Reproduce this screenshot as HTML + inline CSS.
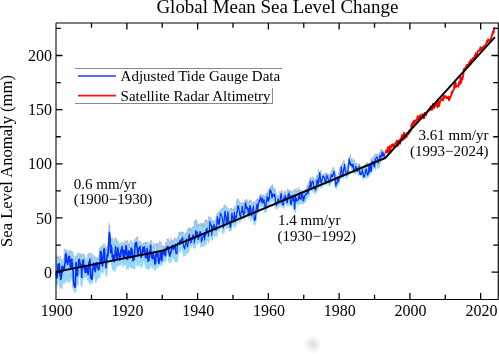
<!DOCTYPE html><html><head><meta charset="utf-8"><style>html,body{margin:0;padding:0;background:#fff;width:499px;height:354px;overflow:hidden}svg{display:block;will-change:transform}text{font-family:"Liberation Serif",serif;fill:#000}</style></head><body><svg width="499" height="354" viewBox="0 0 499 354"><rect width="499" height="354" fill="#fff"/><polygon fill="#96d6f8" points="56.0,263.4 56.3,264.1 56.6,259.4 56.9,255.1 57.2,258.6 57.5,256.8 57.8,257.2 58.1,256.3 58.4,257.5 58.7,257.9 58.9,257.5 59.2,259.3 59.5,258.4 59.8,257.4 60.1,255.8 60.4,256.1 60.7,260.1 61.0,259.7 61.3,259.5 61.6,260.4 61.9,261.5 62.2,262.9 62.5,262.4 62.8,259.8 63.1,260.2 63.4,258.2 63.7,258.0 64.0,257.9 64.3,248.9 64.6,248.8 64.8,248.9 65.1,249.2 65.4,249.7 65.7,252.9 66.0,251.1 66.3,250.9 66.6,249.8 66.9,249.3 67.2,252.2 67.5,251.4 67.8,252.9 68.1,252.4 68.4,252.9 68.7,252.0 69.0,252.4 69.3,250.3 69.6,250.4 69.9,252.3 70.2,250.3 70.4,250.5 70.7,251.7 71.0,253.2 71.3,253.3 71.6,251.3 71.9,250.7 72.2,251.6 72.5,252.4 72.8,252.1 73.1,253.3 73.4,253.9 73.7,254.6 74.0,260.3 74.3,261.1 74.6,260.4 74.9,257.2 75.2,256.9 75.5,255.9 75.8,255.7 76.0,257.0 76.3,258.1 76.6,255.1 76.9,255.4 77.2,256.8 77.5,253.5 77.8,253.1 78.1,253.4 78.4,252.8 78.7,252.9 79.0,253.5 79.3,253.4 79.6,253.1 79.9,253.3 80.2,253.8 80.5,253.7 80.8,256.5 81.1,255.4 81.4,256.6 81.7,253.6 81.9,253.7 82.2,253.7 82.5,254.5 82.8,253.8 83.1,253.9 83.4,254.3 83.7,254.5 84.0,254.4 84.3,254.2 84.6,255.1 84.9,258.4 85.2,257.0 85.5,259.9 85.8,259.3 86.1,260.7 86.4,261.2 86.7,261.3 87.0,260.9 87.3,257.7 87.5,256.1 87.8,254.0 88.1,254.0 88.4,254.7 88.7,253.2 89.0,253.7 89.3,253.6 89.6,253.5 89.9,253.3 90.2,252.9 90.5,252.9 90.8,253.6 91.1,253.1 91.4,255.2 91.7,263.6 92.0,263.3 92.3,257.4 92.6,254.4 92.9,254.2 93.1,255.2 93.4,254.7 93.7,258.7 94.0,258.2 94.3,258.2 94.6,256.6 94.9,255.9 95.2,256.5 95.5,256.9 95.8,257.7 96.1,258.7 96.4,258.7 96.7,259.6 97.0,256.8 97.3,257.9 97.6,258.2 97.9,260.0 98.2,258.1 98.5,258.2 98.8,257.2 99.0,253.5 99.3,248.3 99.6,248.0 99.9,247.8 100.2,247.3 100.5,247.1 100.8,247.1 101.1,246.6 101.4,246.1 101.7,248.2 102.0,248.4 102.3,246.9 102.6,245.1 102.9,245.7 103.2,244.9 103.5,244.4 103.8,243.7 104.1,243.6 104.4,244.3 104.6,244.7 104.9,245.0 105.2,245.6 105.5,246.3 105.8,246.2 106.1,250.6 106.4,249.1 106.7,250.2 107.0,247.5 107.3,246.9 107.6,246.7 107.9,244.3 108.2,241.5 108.5,234.0 108.8,225.6 109.1,223.1 109.4,224.5 109.7,224.9 110.0,226.7 110.2,233.7 110.5,238.1 110.8,239.8 111.1,239.0 111.4,238.8 111.7,238.1 112.0,237.6 112.3,237.6 112.6,238.8 112.9,239.1 113.2,243.0 113.5,245.1 113.8,245.9 114.1,241.2 114.4,238.8 114.7,238.4 115.0,237.5 115.3,238.6 115.6,238.5 115.9,237.8 116.1,239.0 116.4,239.1 116.7,239.2 117.0,239.5 117.3,242.2 117.6,241.2 117.9,241.0 118.2,241.5 118.5,242.0 118.8,242.3 119.1,242.9 119.4,244.3 119.7,244.7 120.0,243.7 120.3,243.4 120.6,243.7 120.9,243.7 121.2,243.2 121.5,242.8 121.7,242.5 122.0,242.5 122.3,243.6 122.6,242.3 122.9,242.0 123.2,243.4 123.5,243.8 123.8,245.8 124.1,244.2 124.4,244.1 124.7,241.2 125.0,240.6 125.3,240.7 125.6,240.9 125.9,240.7 126.2,242.1 126.5,242.8 126.8,241.6 127.1,241.2 127.3,240.0 127.6,240.4 127.9,244.8 128.2,244.6 128.5,245.7 128.8,242.6 129.1,247.6 129.4,243.9 129.7,243.7 130.0,243.4 130.3,240.8 130.6,241.1 130.9,240.5 131.2,240.5 131.5,240.8 131.8,241.8 132.1,243.1 132.4,242.8 132.7,245.6 133.0,246.6 133.2,246.7 133.5,247.3 133.8,242.6 134.1,240.5 134.4,240.7 134.7,239.8 135.0,239.2 135.3,238.9 135.6,238.6 135.9,238.2 136.2,237.8 136.5,237.3 136.8,238.4 137.1,238.5 137.4,236.7 137.7,236.0 138.0,240.5 138.3,241.2 138.6,242.0 138.8,241.6 139.1,242.3 139.4,241.8 139.7,242.4 140.0,243.0 140.3,240.7 140.6,241.2 140.9,241.9 141.2,244.4 141.5,246.2 141.8,244.5 142.1,244.3 142.4,243.3 142.7,243.4 143.0,243.8 143.3,242.8 143.6,244.8 143.9,243.5 144.2,243.0 144.5,242.3 144.7,242.1 145.0,241.9 145.3,243.6 145.6,246.5 145.9,242.1 146.2,242.8 146.5,243.7 146.8,242.0 147.1,241.9 147.4,242.2 147.7,241.9 148.0,243.3 148.3,243.5 148.6,246.1 148.9,246.5 149.2,246.8 149.5,244.2 149.8,242.3 150.1,242.6 150.3,240.8 150.6,241.3 150.9,240.3 151.2,240.0 151.5,240.3 151.8,240.4 152.1,246.2 152.4,248.0 152.7,247.6 153.0,245.8 153.3,246.3 153.6,242.5 153.9,245.7 154.2,245.4 154.5,247.3 154.8,249.0 155.1,243.8 155.4,245.1 155.7,243.7 155.9,244.6 156.2,243.6 156.5,244.3 156.8,246.0 157.1,243.8 157.4,243.2 157.7,243.8 158.0,245.2 158.3,248.6 158.6,245.2 158.9,242.3 159.2,242.1 159.5,241.5 159.8,241.2 160.1,242.2 160.4,241.8 160.7,242.3 161.0,241.6 161.3,243.8 161.6,243.7 161.8,246.3 162.1,247.3 162.4,247.1 162.7,245.8 163.0,246.5 163.3,247.8 163.6,245.1 163.9,246.5 164.2,249.3 164.5,247.5 164.8,246.9 165.1,245.8 165.4,241.9 165.7,243.9 166.0,243.4 166.3,242.8 166.6,242.2 166.9,242.1 167.2,238.6 167.4,240.1 167.7,239.0 168.0,239.5 168.3,238.7 168.6,238.4 168.9,240.9 169.2,240.7 169.5,241.8 169.8,241.8 170.1,244.8 170.4,242.9 170.7,238.0 171.0,238.3 171.3,239.5 171.6,241.4 171.9,242.8 172.2,240.2 172.5,243.1 172.8,241.5 173.0,241.5 173.3,240.0 173.6,239.5 173.9,240.5 174.2,239.0 174.5,238.6 174.8,240.1 175.1,241.2 175.4,237.3 175.7,237.8 176.0,238.1 176.3,239.5 176.6,241.1 176.9,238.2 177.2,237.4 177.5,237.9 177.8,238.4 178.1,236.6 178.4,237.3 178.7,233.6 178.9,232.6 179.2,232.2 179.5,233.4 179.8,234.8 180.1,231.8 180.4,232.1 180.7,231.9 181.0,233.0 181.3,231.5 181.6,232.4 181.9,232.8 182.2,231.7 182.5,231.8 182.8,233.5 183.1,232.7 183.4,232.1 183.7,232.3 184.0,235.1 184.3,238.2 184.5,238.8 184.8,234.8 185.1,233.3 185.4,233.2 185.7,235.4 186.0,233.5 186.3,232.8 186.6,231.7 186.9,233.1 187.2,232.2 187.5,229.1 187.8,231.0 188.1,230.1 188.4,228.3 188.7,228.3 189.0,228.6 189.3,227.8 189.6,231.1 189.9,228.6 190.1,229.3 190.4,227.4 190.7,228.4 191.0,233.1 191.3,232.9 191.6,228.4 191.9,231.6 192.2,230.1 192.5,228.1 192.8,226.8 193.1,226.6 193.4,228.4 193.7,226.0 194.0,226.0 194.3,221.5 194.6,222.4 194.9,220.9 195.2,221.6 195.5,221.2 195.8,219.4 196.0,221.0 196.3,222.1 196.6,219.9 196.9,222.0 197.2,228.1 197.5,224.7 197.8,225.1 198.1,223.0 198.4,224.9 198.7,224.1 199.0,226.0 199.3,225.8 199.6,224.5 199.9,226.6 200.2,225.3 200.5,223.6 200.8,224.2 201.1,222.8 201.4,224.1 201.6,223.6 201.9,223.4 202.2,226.7 202.5,223.9 202.8,226.2 203.1,223.0 203.4,226.9 203.7,225.3 204.0,223.4 204.3,222.6 204.6,224.1 204.9,220.8 205.2,220.1 205.5,221.8 205.8,219.3 206.1,219.2 206.4,220.1 206.7,221.4 207.0,220.4 207.2,220.8 207.5,220.9 207.8,222.1 208.1,223.7 208.4,218.7 208.7,216.0 209.0,216.2 209.3,216.8 209.6,218.5 209.9,217.3 210.2,217.4 210.5,218.9 210.8,217.7 211.1,218.0 211.4,218.5 211.7,220.0 212.0,221.2 212.3,221.1 212.6,223.8 212.9,220.3 213.1,220.2 213.4,221.9 213.7,222.0 214.0,220.9 214.3,221.1 214.6,221.7 214.9,220.8 215.2,221.4 215.5,221.2 215.8,216.9 216.1,215.0 216.4,214.5 216.7,214.3 217.0,213.9 217.3,213.0 217.6,213.1 217.9,212.8 218.2,212.3 218.5,212.2 218.7,214.0 219.0,211.7 219.3,211.6 219.6,210.9 219.9,213.1 220.2,210.1 220.5,209.8 220.8,210.1 221.1,209.2 221.4,209.5 221.7,208.7 222.0,208.1 222.3,208.6 222.6,208.2 222.9,208.0 223.2,209.1 223.5,209.7 223.8,205.9 224.1,206.1 224.3,205.7 224.6,204.9 224.9,205.7 225.2,204.7 225.5,205.2 225.8,206.5 226.1,205.9 226.4,206.6 226.7,206.5 227.0,208.1 227.3,207.5 227.6,208.3 227.9,208.4 228.2,208.6 228.5,208.4 228.8,208.6 229.1,208.5 229.4,209.7 229.7,215.1 230.0,216.0 230.2,216.1 230.5,211.4 230.8,207.9 231.1,211.3 231.4,208.2 231.7,209.9 232.0,208.5 232.3,209.5 232.6,210.1 232.9,210.6 233.2,210.7 233.5,207.9 233.8,211.9 234.1,209.8 234.4,207.4 234.7,205.8 235.0,210.0 235.3,210.2 235.6,207.9 235.8,207.2 236.1,207.8 236.4,201.1 236.7,199.7 237.0,199.7 237.3,200.3 237.6,199.4 237.9,198.4 238.2,200.2 238.5,199.4 238.8,199.6 239.1,201.7 239.4,201.5 239.7,201.6 240.0,204.5 240.3,207.7 240.6,207.1 240.9,202.4 241.2,202.3 241.5,203.8 241.7,203.8 242.0,203.8 242.3,204.5 242.6,202.7 242.9,202.7 243.2,202.9 243.5,204.2 243.8,202.5 244.1,201.2 244.4,200.9 244.7,200.3 245.0,200.2 245.3,199.9 245.6,200.1 245.9,199.6 246.2,199.1 246.5,199.1 246.8,199.1 247.1,202.2 247.3,201.9 247.6,200.6 247.9,203.3 248.2,202.1 248.5,201.6 248.8,202.3 249.1,202.6 249.4,199.7 249.7,200.0 250.0,202.5 250.3,200.4 250.6,201.6 250.9,202.1 251.2,199.6 251.5,202.7 251.8,203.0 252.1,204.6 252.4,203.8 252.7,202.7 252.9,202.0 253.2,202.6 253.5,201.7 253.8,202.5 254.1,202.0 254.4,203.6 254.7,201.9 255.0,205.4 255.3,204.0 255.6,202.2 255.9,200.6 256.2,200.6 256.5,199.8 256.8,199.1 257.1,201.7 257.4,199.1 257.7,197.7 258.0,201.2 258.3,199.1 258.6,199.6 258.8,197.7 259.1,197.5 259.4,195.2 259.7,195.2 260.0,194.3 260.3,194.4 260.6,194.4 260.9,194.8 261.2,195.5 261.5,194.1 261.8,194.2 262.1,195.4 262.4,195.2 262.7,196.3 263.0,195.0 263.3,195.1 263.6,197.3 263.9,195.2 264.2,196.4 264.4,195.9 264.7,196.0 265.0,196.8 265.3,198.0 265.6,195.2 265.9,193.5 266.2,193.0 266.5,194.8 266.8,192.7 267.1,193.2 267.4,194.2 267.7,191.7 268.0,192.9 268.3,191.0 268.6,189.6 268.9,189.0 269.2,188.7 269.5,188.1 269.8,187.4 270.0,186.9 270.3,186.5 270.6,187.8 270.9,187.5 271.2,187.3 271.5,188.3 271.8,185.0 272.1,185.1 272.4,184.3 272.7,189.5 273.0,186.5 273.3,188.6 273.6,190.9 273.9,188.6 274.2,188.9 274.5,189.6 274.8,191.1 275.1,188.6 275.4,190.7 275.7,191.7 275.9,191.4 276.2,194.2 276.5,198.1 276.8,197.2 277.1,195.7 277.4,195.2 277.7,196.3 278.0,195.5 278.3,196.4 278.6,196.0 278.9,197.3 279.2,195.2 279.5,191.9 279.8,190.9 280.1,191.2 280.4,192.2 280.7,191.6 281.0,192.1 281.3,193.6 281.5,192.6 281.8,189.9 282.1,190.2 282.4,192.2 282.7,192.7 283.0,194.9 283.3,194.1 283.6,195.9 283.9,194.5 284.2,191.6 284.5,192.5 284.8,192.1 285.1,190.6 285.4,192.7 285.7,192.2 286.0,192.9 286.3,195.7 286.6,196.4 286.9,194.4 287.1,191.3 287.4,188.6 287.7,191.3 288.0,190.1 288.3,190.2 288.6,189.7 288.9,190.2 289.2,193.3 289.5,190.8 289.8,190.0 290.1,190.7 290.4,192.5 290.7,190.6 291.0,191.1 291.3,191.0 291.6,191.8 291.9,191.6 292.2,191.9 292.5,191.7 292.8,191.2 293.0,191.0 293.3,191.2 293.6,190.6 293.9,191.6 294.2,189.7 294.5,190.2 294.8,189.6 295.1,189.1 295.4,189.5 295.7,189.3 296.0,188.4 296.3,188.2 296.6,189.1 296.9,192.2 297.2,191.5 297.5,190.4 297.8,191.6 298.1,192.2 298.4,188.7 298.6,187.3 298.9,188.0 299.2,189.7 299.5,191.3 299.8,189.8 300.1,189.5 300.4,189.6 300.7,189.7 301.0,190.2 301.3,190.5 301.6,191.5 301.9,191.6 302.2,191.6 302.5,190.2 302.8,190.4 303.1,190.2 303.4,192.5 303.7,195.3 304.0,193.9 304.2,194.0 304.5,191.9 304.8,190.7 305.1,189.2 305.4,190.3 305.7,189.5 306.0,190.0 306.3,190.6 306.6,187.3 306.9,186.0 307.2,187.0 307.5,185.3 307.8,185.5 308.1,184.6 308.4,182.9 308.7,182.5 309.0,184.9 309.3,180.2 309.6,178.6 309.9,177.4 310.1,177.0 310.4,178.1 310.7,178.9 311.0,181.1 311.3,178.3 311.6,178.0 311.9,177.6 312.2,178.0 312.5,177.5 312.8,176.6 313.1,179.0 313.4,178.6 313.7,180.0 314.0,178.2 314.3,179.9 314.6,180.5 314.9,181.5 315.2,179.9 315.5,182.3 315.7,177.9 316.0,177.5 316.3,176.1 316.6,175.2 316.9,175.8 317.2,177.1 317.5,175.1 317.8,177.8 318.1,173.8 318.4,169.3 318.7,171.7 319.0,171.7 319.3,172.3 319.6,171.9 319.9,172.3 320.2,172.5 320.5,170.3 320.8,170.4 321.1,170.9 321.4,174.4 321.6,175.1 321.9,173.9 322.2,175.0 322.5,176.6 322.8,175.4 323.1,175.4 323.4,174.9 323.7,175.4 324.0,174.6 324.3,173.5 324.6,174.1 324.9,175.1 325.2,172.6 325.5,173.1 325.8,173.4 326.1,173.7 326.4,172.8 326.7,173.9 327.0,174.4 327.2,173.1 327.5,173.7 327.8,174.5 328.1,174.9 328.4,173.8 328.7,174.3 329.0,175.5 329.3,174.5 329.6,178.4 329.9,174.3 330.2,174.1 330.5,173.5 330.8,172.1 331.1,172.3 331.4,171.0 331.7,170.5 332.0,170.8 332.3,168.8 332.6,168.0 332.8,167.6 333.1,168.0 333.4,167.3 333.7,168.1 334.0,168.9 334.3,169.3 334.6,170.1 334.9,171.5 335.2,171.8 335.5,172.9 335.8,173.4 336.1,174.7 336.4,176.0 336.7,176.0 337.0,176.0 337.3,176.6 337.6,176.7 337.9,176.3 338.2,175.8 338.5,173.2 338.7,173.2 339.0,170.6 339.3,170.0 339.6,168.2 339.9,167.1 340.2,166.8 340.5,166.0 340.8,165.5 341.1,164.2 341.4,164.0 341.7,164.9 342.0,164.3 342.3,163.8 342.6,163.3 342.9,162.3 343.2,161.0 343.5,159.9 343.8,159.9 344.1,160.1 344.3,161.0 344.6,161.5 344.9,162.8 345.2,163.9 345.5,165.5 345.8,165.9 346.1,166.6 346.4,168.2 346.7,171.8 347.0,167.2 347.3,165.8 347.6,164.2 347.9,163.1 348.2,161.3 348.5,159.6 348.8,158.1 349.1,157.0 349.4,158.7 349.7,156.3 349.9,156.3 350.2,155.6 350.5,154.0 350.8,156.8 351.1,158.5 351.4,160.0 351.7,159.4 352.0,161.4 352.3,160.8 352.6,161.9 352.9,158.4 353.2,161.4 353.5,160.8 353.8,160.7 354.1,160.0 354.4,159.8 354.7,164.0 355.0,166.9 355.3,163.9 355.6,163.0 355.8,164.2 356.1,164.2 356.4,162.9 356.7,163.0 357.0,163.1 357.3,164.2 357.6,165.8 357.9,165.4 358.2,164.8 358.5,164.4 358.8,163.7 359.1,164.5 359.4,163.3 359.7,165.9 360.0,164.6 360.3,165.8 360.6,168.4 360.9,170.6 361.2,168.3 361.4,167.5 361.7,166.6 362.0,166.1 362.3,168.8 362.6,169.5 362.9,168.0 363.2,167.7 363.5,166.3 363.8,166.4 364.1,166.0 364.4,164.9 364.7,165.3 365.0,163.7 365.3,165.8 365.6,166.0 365.9,165.4 366.2,162.8 366.5,164.2 366.8,165.0 367.0,163.7 367.3,162.2 367.6,164.8 367.9,164.7 368.2,163.5 368.5,164.8 368.8,164.8 369.1,163.5 369.4,163.0 369.7,163.6 370.0,164.7 370.3,163.2 370.6,162.3 370.9,159.3 371.2,158.3 371.5,157.6 371.8,157.6 372.1,158.0 372.4,157.8 372.7,158.4 372.9,158.2 373.2,158.0 373.5,157.8 373.8,156.6 374.1,155.8 374.4,157.7 374.7,154.6 375.0,154.5 375.3,155.0 375.6,154.1 375.9,153.7 376.2,156.1 376.5,155.0 376.8,153.7 377.1,154.4 377.4,154.1 377.7,154.8 378.0,155.7 378.3,157.8 378.5,155.1 378.8,153.5 379.1,152.3 379.4,152.7 379.7,152.9 380.0,153.9 380.3,154.0 380.6,149.7 380.9,149.4 381.2,151.1 381.5,148.8 381.8,150.3 382.1,151.1 382.4,151.2 382.7,150.5 383.0,151.8 383.3,151.0 383.6,151.1 383.9,150.7 384.1,152.3 384.4,152.3 384.7,153.4 384.7,160.9 384.4,158.7 384.1,160.1 383.9,157.9 383.6,158.9 383.3,159.1 383.0,157.5 382.7,160.7 382.4,158.3 382.1,158.9 381.8,158.8 381.5,160.8 381.2,161.4 380.9,161.8 380.6,163.4 380.3,165.6 380.0,166.2 379.7,167.2 379.4,167.8 379.1,168.7 378.8,168.3 378.5,168.9 378.3,167.5 378.0,169.4 377.7,169.9 377.4,168.3 377.1,170.0 376.8,165.6 376.5,165.0 376.2,165.4 375.9,170.3 375.6,169.1 375.3,171.0 375.0,171.0 374.7,170.2 374.4,168.9 374.1,168.2 373.8,167.7 373.5,169.8 373.2,168.6 372.9,170.5 372.7,170.2 372.4,173.9 372.1,170.7 371.8,171.3 371.5,173.7 371.2,174.2 370.9,174.0 370.6,172.8 370.3,174.7 370.0,174.3 369.7,176.5 369.4,176.6 369.1,176.3 368.8,177.0 368.5,176.9 368.2,177.9 367.9,178.3 367.6,178.3 367.3,177.0 367.0,178.7 366.8,178.9 366.5,179.2 366.2,178.6 365.9,178.4 365.6,177.5 365.3,178.1 365.0,179.0 364.7,177.3 364.4,178.2 364.1,180.2 363.8,180.0 363.5,180.2 363.2,178.2 362.9,180.3 362.6,180.3 362.3,179.1 362.0,175.6 361.7,177.1 361.4,176.4 361.2,175.9 360.9,175.5 360.6,176.2 360.3,176.8 360.0,177.8 359.7,175.7 359.4,175.1 359.1,175.1 358.8,175.8 358.5,177.4 358.2,175.2 357.9,174.4 357.6,173.8 357.3,172.4 357.0,173.6 356.7,171.9 356.4,173.6 356.1,173.3 355.8,174.0 355.6,173.4 355.3,175.0 355.0,174.3 354.7,174.3 354.4,174.1 354.1,173.9 353.8,174.1 353.5,173.6 353.2,173.0 352.9,173.1 352.6,172.2 352.3,172.3 352.0,170.3 351.7,169.0 351.4,170.0 351.1,169.1 350.8,169.5 350.5,167.2 350.2,165.2 349.9,166.8 349.7,165.9 349.4,167.2 349.1,174.9 348.8,175.3 348.5,176.1 348.2,177.6 347.9,178.5 347.6,178.6 347.3,177.5 347.0,175.6 346.7,180.0 346.4,179.6 346.1,178.3 345.8,178.7 345.5,178.7 345.2,177.2 344.9,175.8 344.6,173.2 344.3,176.1 344.1,178.7 343.8,177.5 343.5,180.1 343.2,179.5 342.9,178.6 342.6,179.3 342.3,178.6 342.0,178.0 341.7,179.9 341.4,176.8 341.1,178.3 340.8,179.8 340.5,178.7 340.2,180.0 339.9,182.7 339.6,184.5 339.3,183.1 339.0,185.7 338.7,184.4 338.5,185.2 338.2,186.0 337.9,185.9 337.6,187.5 337.3,186.0 337.0,188.8 336.7,189.9 336.4,190.0 336.1,189.3 335.8,189.6 335.5,188.4 335.2,187.3 334.9,187.2 334.6,186.8 334.3,184.0 334.0,184.2 333.7,180.4 333.4,176.9 333.1,178.0 332.8,177.3 332.6,179.7 332.3,179.6 332.0,183.2 331.7,183.1 331.4,184.1 331.1,185.0 330.8,185.3 330.5,185.3 330.2,186.8 329.9,186.8 329.6,187.0 329.3,187.2 329.0,186.4 328.7,185.8 328.4,185.8 328.1,184.5 327.8,186.1 327.5,184.5 327.2,182.3 327.0,184.9 326.7,183.4 326.4,184.9 326.1,185.4 325.8,186.1 325.5,185.5 325.2,183.4 324.9,184.7 324.6,186.8 324.3,184.9 324.0,184.3 323.7,184.5 323.4,180.2 323.1,182.6 322.8,187.1 322.5,187.7 322.2,188.0 321.9,187.6 321.6,188.4 321.4,187.8 321.1,187.9 320.8,188.3 320.5,188.6 320.2,187.5 319.9,187.6 319.6,186.6 319.3,185.6 319.0,189.5 318.7,189.5 318.4,189.5 318.1,186.8 317.8,190.0 317.5,190.5 317.2,192.0 316.9,192.5 316.6,193.6 316.3,194.1 316.0,193.2 315.7,191.5 315.5,193.2 315.2,195.7 314.9,195.5 314.6,194.4 314.3,192.7 314.0,192.1 313.7,192.8 313.4,193.5 313.1,192.5 312.8,191.1 312.5,193.7 312.2,191.9 311.9,193.8 311.6,189.9 311.3,189.7 311.0,191.0 310.7,190.9 310.4,190.7 310.1,192.6 309.9,192.9 309.6,196.6 309.3,198.2 309.0,198.4 308.7,197.3 308.4,194.8 308.1,198.0 307.8,197.5 307.5,200.4 307.2,200.0 306.9,200.7 306.6,199.5 306.3,200.8 306.0,201.4 305.7,202.0 305.4,202.3 305.1,202.9 304.8,202.8 304.5,203.5 304.2,203.7 304.0,203.3 303.7,204.5 303.4,204.6 303.1,203.2 302.8,204.4 302.5,204.5 302.2,204.5 301.9,204.5 301.6,204.1 301.3,203.8 301.0,203.6 300.7,204.3 300.4,204.3 300.1,204.3 299.8,204.1 299.5,204.2 299.2,205.4 298.9,206.1 298.6,205.5 298.4,204.4 298.1,204.2 297.8,205.6 297.5,206.1 297.2,205.6 296.9,204.0 296.6,205.3 296.3,204.6 296.0,213.3 295.7,212.7 295.4,213.1 295.1,212.5 294.8,211.6 294.5,212.1 294.2,211.5 293.9,211.0 293.6,210.5 293.3,210.1 293.0,205.6 292.8,203.7 292.5,207.2 292.2,208.1 291.9,206.4 291.6,205.5 291.3,207.9 291.0,206.1 290.7,206.0 290.4,207.3 290.1,207.1 289.8,207.4 289.5,205.8 289.2,206.5 288.9,203.5 288.6,205.7 288.3,206.5 288.0,206.2 287.7,206.2 287.4,206.3 287.1,205.7 286.9,205.6 286.6,206.7 286.3,204.9 286.0,205.4 285.7,204.2 285.4,203.5 285.1,203.3 284.8,207.9 284.5,208.2 284.2,208.3 283.9,206.8 283.6,208.0 283.3,208.3 283.0,208.4 282.7,208.5 282.4,208.2 282.1,208.4 281.8,205.8 281.5,207.2 281.3,208.3 281.0,205.7 280.7,206.9 280.4,203.7 280.1,207.2 279.8,207.6 279.5,205.4 279.2,208.0 278.9,207.5 278.6,205.8 278.3,206.1 278.0,209.0 277.7,208.9 277.4,208.9 277.1,208.9 276.8,209.6 276.5,210.4 276.2,208.5 275.9,210.0 275.7,209.9 275.4,207.2 275.1,205.7 274.8,207.9 274.5,209.1 274.2,207.5 273.9,201.8 273.6,201.0 273.3,203.5 273.0,203.7 272.7,200.2 272.4,201.9 272.1,201.1 271.8,201.5 271.5,203.2 271.2,203.6 270.9,201.6 270.6,203.5 270.3,204.8 270.0,205.7 269.8,206.4 269.5,207.0 269.2,207.1 268.9,205.8 268.6,206.3 268.3,207.5 268.0,207.5 267.7,205.2 267.4,210.0 267.1,210.5 266.8,212.1 266.5,212.6 266.2,212.0 265.9,212.9 265.6,212.2 265.3,213.2 265.0,213.0 264.7,212.5 264.4,212.8 264.2,212.0 263.9,211.2 263.6,206.0 263.3,208.1 263.0,208.0 262.7,207.8 262.4,207.6 262.1,206.7 261.8,205.2 261.5,208.4 261.2,208.2 260.9,208.4 260.6,204.9 260.3,207.9 260.0,207.0 259.7,203.5 259.4,209.2 259.1,211.3 258.8,213.0 258.6,213.5 258.3,214.6 258.0,213.3 257.7,213.3 257.4,214.7 257.1,215.2 256.8,220.1 256.5,221.0 256.2,222.1 255.9,223.2 255.6,223.6 255.3,224.9 255.0,225.6 254.7,225.5 254.4,225.3 254.1,225.5 253.8,224.4 253.5,225.1 253.2,223.6 252.9,220.0 252.7,219.0 252.4,220.3 252.1,219.2 251.8,221.1 251.5,219.2 251.2,221.9 250.9,220.4 250.6,222.0 250.3,220.9 250.0,218.1 249.7,217.1 249.4,218.1 249.1,218.7 248.8,219.0 248.5,219.0 248.2,218.6 247.9,216.9 247.6,216.7 247.3,217.1 247.1,219.9 246.8,216.2 246.5,214.0 246.2,212.6 245.9,219.6 245.6,217.6 245.3,219.7 245.0,219.5 244.7,219.6 244.4,221.1 244.1,219.3 243.8,219.9 243.5,219.1 243.2,218.2 242.9,219.2 242.6,219.5 242.3,218.1 242.0,218.4 241.7,220.7 241.5,222.4 241.2,221.7 240.9,222.1 240.6,221.4 240.3,220.3 240.0,222.6 239.7,222.8 239.4,224.0 239.1,225.1 238.8,223.1 238.5,219.9 238.2,219.0 237.9,221.3 237.6,223.4 237.3,223.8 237.0,224.8 236.7,224.8 236.4,224.2 236.1,228.7 235.8,228.8 235.6,227.1 235.3,227.3 235.0,228.4 234.7,228.0 234.4,224.8 234.1,225.8 233.8,227.4 233.5,224.9 233.2,227.1 232.9,226.3 232.6,223.9 232.3,223.9 232.0,229.4 231.7,230.9 231.4,231.1 231.1,230.8 230.8,230.9 230.5,230.6 230.2,230.9 230.0,231.9 229.7,231.7 229.4,231.8 229.1,231.7 228.8,231.4 228.5,228.7 228.2,228.1 227.9,227.0 227.6,227.9 227.3,228.6 227.0,228.5 226.7,229.8 226.4,229.2 226.1,228.9 225.8,228.0 225.5,227.3 225.2,226.7 224.9,230.7 224.6,234.1 224.3,232.8 224.1,233.6 223.8,234.3 223.5,231.6 223.2,233.2 222.9,234.4 222.6,234.8 222.3,234.6 222.0,234.4 221.7,228.6 221.4,228.9 221.1,226.4 220.8,229.1 220.5,229.8 220.2,229.1 219.9,231.5 219.6,229.7 219.3,229.6 219.0,230.4 218.7,232.0 218.5,232.6 218.2,232.4 217.9,231.5 217.6,236.2 217.3,238.1 217.0,238.2 216.7,238.3 216.4,235.2 216.1,235.7 215.8,235.3 215.5,237.6 215.2,235.9 214.9,238.1 214.6,237.2 214.3,236.2 214.0,236.9 213.7,234.7 213.4,239.5 213.1,239.4 212.9,240.6 212.6,240.0 212.3,240.1 212.0,241.2 211.7,241.4 211.4,239.1 211.1,240.0 210.8,240.9 210.5,239.6 210.2,235.7 209.9,234.7 209.6,242.0 209.3,242.6 209.0,242.8 208.7,243.6 208.4,243.3 208.1,242.2 207.8,242.0 207.5,240.1 207.2,241.5 207.0,239.9 206.7,244.1 206.4,244.7 206.1,243.4 205.8,246.3 205.5,246.1 205.2,246.3 204.9,245.0 204.6,245.9 204.3,246.2 204.0,246.6 203.7,246.4 203.4,246.7 203.1,246.6 202.8,246.7 202.5,246.7 202.2,246.9 201.9,245.6 201.6,247.0 201.4,247.1 201.1,246.9 200.8,247.0 200.5,247.6 200.2,247.6 199.9,242.0 199.6,242.1 199.3,242.1 199.0,244.6 198.7,243.6 198.4,243.3 198.1,244.6 197.8,244.8 197.5,245.1 197.2,244.5 196.9,243.7 196.6,240.5 196.3,245.1 196.0,246.1 195.8,247.3 195.5,250.2 195.2,249.2 194.9,247.6 194.6,247.8 194.3,249.1 194.0,249.3 193.7,248.6 193.4,248.6 193.1,247.8 192.8,243.0 192.5,245.9 192.2,245.9 191.9,246.2 191.6,247.4 191.3,247.7 191.0,247.7 190.7,245.2 190.4,247.5 190.1,248.8 189.9,246.8 189.6,251.1 189.3,250.9 189.0,252.8 188.7,253.3 188.4,252.4 188.1,253.1 187.8,254.7 187.5,254.3 187.2,254.6 186.9,253.6 186.6,252.5 186.3,253.3 186.0,256.4 185.7,256.1 185.4,255.4 185.1,256.2 184.8,256.2 184.5,256.2 184.3,256.0 184.0,255.6 183.7,255.5 183.4,257.0 183.1,258.3 182.8,254.8 182.5,253.9 182.2,251.5 181.9,249.3 181.6,249.0 181.3,251.7 181.0,251.4 180.7,251.7 180.4,253.2 180.1,253.0 179.8,251.7 179.5,251.0 179.2,252.5 178.9,254.6 178.7,252.6 178.4,256.1 178.1,261.9 177.8,262.0 177.5,260.1 177.2,262.4 176.9,262.5 176.6,262.2 176.3,262.2 176.0,262.6 175.7,262.3 175.4,262.8 175.1,262.7 174.8,262.8 174.5,261.7 174.2,259.0 173.9,258.8 173.6,259.6 173.3,259.4 173.0,258.0 172.8,257.7 172.5,258.5 172.2,257.7 171.9,260.9 171.6,261.7 171.3,262.6 171.0,262.6 170.7,262.5 170.4,262.8 170.1,263.1 169.8,263.0 169.5,263.3 169.2,260.1 168.9,263.2 168.6,263.1 168.3,261.5 168.0,259.0 167.7,253.0 167.4,255.0 167.2,256.6 166.9,257.0 166.6,259.9 166.3,261.4 166.0,260.0 165.7,260.5 165.4,262.5 165.1,262.6 164.8,261.3 164.5,261.3 164.2,264.4 163.9,262.5 163.6,261.6 163.3,263.3 163.0,265.1 162.7,265.2 162.4,266.1 162.1,265.6 161.8,265.2 161.6,266.1 161.3,265.6 161.0,265.2 160.7,264.0 160.4,265.6 160.1,267.4 159.8,265.0 159.5,265.0 159.2,267.5 158.9,267.9 158.6,267.6 158.3,266.6 158.0,267.2 157.7,269.1 157.4,266.9 157.1,265.1 156.8,269.1 156.5,269.0 156.2,269.5 155.9,270.2 155.7,270.3 155.4,270.2 155.1,270.3 154.8,270.1 154.5,270.8 154.2,270.5 153.9,270.1 153.6,270.6 153.3,266.8 153.0,267.0 152.7,269.2 152.4,269.5 152.1,268.1 151.8,268.9 151.5,266.1 151.2,268.5 150.9,267.2 150.6,265.3 150.3,265.7 150.1,269.0 149.8,268.3 149.5,268.9 149.2,269.2 148.9,269.1 148.6,269.5 148.3,269.3 148.0,270.1 147.7,270.3 147.4,269.0 147.1,270.4 146.8,270.0 146.5,267.7 146.2,268.7 145.9,267.9 145.6,269.4 145.3,267.2 145.0,266.2 144.7,263.3 144.5,265.4 144.2,263.6 143.9,260.6 143.6,263.3 143.3,262.6 143.0,266.6 142.7,266.4 142.4,268.6 142.1,268.3 141.8,268.5 141.5,266.5 141.2,265.8 140.9,267.4 140.6,267.7 140.3,268.6 140.0,269.3 139.7,264.8 139.4,262.2 139.1,267.0 138.8,265.4 138.6,265.0 138.3,267.6 138.0,266.1 137.7,267.4 137.4,267.1 137.1,265.4 136.8,265.6 136.5,267.5 136.2,262.8 135.9,261.2 135.6,266.5 135.3,268.5 135.0,268.9 134.7,269.0 134.4,269.3 134.1,269.3 133.8,268.3 133.5,268.8 133.2,268.4 133.0,269.2 132.7,269.3 132.4,269.0 132.1,269.1 131.8,269.0 131.5,267.9 131.2,268.4 130.9,267.9 130.6,267.6 130.3,267.3 130.0,267.7 129.7,265.7 129.4,267.5 129.1,268.3 128.8,269.1 128.5,269.6 128.2,269.9 127.9,268.9 127.6,270.6 127.3,268.6 127.1,270.5 126.8,270.6 126.5,268.5 126.2,268.4 125.9,264.1 125.6,267.6 125.3,264.4 125.0,264.6 124.7,266.2 124.4,266.0 124.1,265.2 123.8,266.9 123.5,267.3 123.2,266.1 122.9,265.2 122.6,266.9 122.3,269.4 122.0,266.4 121.7,264.0 121.5,262.2 121.2,263.6 120.9,264.5 120.6,266.3 120.3,266.0 120.0,265.6 119.7,265.4 119.4,266.0 119.1,265.8 118.8,265.6 118.5,265.3 118.2,266.1 117.9,265.2 117.6,268.1 117.3,267.1 117.0,266.8 116.7,266.7 116.4,266.3 116.1,269.4 115.9,269.0 115.6,270.7 115.3,271.8 115.0,272.3 114.7,271.8 114.4,271.4 114.1,270.1 113.8,269.6 113.5,272.0 113.2,271.0 112.9,271.7 112.6,268.4 112.3,270.0 112.0,269.9 111.7,267.6 111.4,264.7 111.1,266.7 110.8,261.8 110.5,262.8 110.2,262.9 110.0,261.3 109.7,259.1 109.4,260.4 109.1,264.8 108.8,264.0 108.5,264.2 108.2,262.9 107.9,267.8 107.6,270.5 107.3,276.4 107.0,276.3 106.7,276.1 106.4,276.7 106.1,276.2 105.8,276.1 105.5,276.0 105.2,272.4 104.9,273.7 104.6,269.1 104.4,270.3 104.1,268.4 103.8,273.3 103.5,273.9 103.2,274.3 102.9,272.1 102.6,272.5 102.3,272.0 102.0,273.8 101.7,275.3 101.4,273.6 101.1,272.0 100.8,272.0 100.5,275.7 100.2,278.3 99.9,278.1 99.6,279.0 99.3,277.4 99.0,278.6 98.8,279.2 98.5,280.1 98.2,277.2 97.9,278.8 97.6,279.9 97.3,279.8 97.0,280.4 96.7,282.2 96.4,282.4 96.1,282.8 95.8,283.0 95.5,283.0 95.2,282.7 94.9,278.9 94.6,278.3 94.3,277.6 94.0,276.5 93.7,274.5 93.4,281.4 93.1,281.3 92.9,284.2 92.6,284.0 92.3,284.6 92.0,284.8 91.7,282.6 91.4,282.6 91.1,284.9 90.8,285.4 90.5,283.5 90.2,285.5 89.9,284.6 89.6,285.5 89.3,282.2 89.0,283.7 88.7,281.6 88.4,283.1 88.1,281.0 87.8,280.1 87.5,281.3 87.3,281.0 87.0,279.4 86.7,276.7 86.4,277.1 86.1,278.2 85.8,278.3 85.5,278.4 85.2,276.7 84.9,277.9 84.6,278.6 84.3,280.0 84.0,279.6 83.7,278.7 83.4,276.7 83.1,281.3 82.8,285.9 82.5,284.3 82.2,286.1 81.9,285.9 81.7,287.3 81.4,289.1 81.1,285.6 80.8,285.9 80.5,287.5 80.2,276.7 79.9,275.8 79.6,275.0 79.3,275.8 79.0,279.1 78.7,285.7 78.4,284.7 78.1,286.3 77.8,286.1 77.5,286.1 77.2,282.9 76.9,284.2 76.6,290.0 76.3,291.5 76.0,291.7 75.8,292.1 75.5,293.5 75.2,293.3 74.9,293.6 74.6,292.8 74.3,292.7 74.0,291.7 73.7,291.1 73.4,290.7 73.1,290.0 72.8,289.5 72.5,288.3 72.2,288.0 71.9,278.3 71.6,282.0 71.3,278.1 71.0,279.6 70.7,279.7 70.4,280.9 70.2,282.5 69.9,281.7 69.6,282.9 69.3,281.4 69.0,283.6 68.7,282.6 68.4,282.6 68.1,284.1 67.8,281.3 67.5,281.8 67.2,281.6 66.9,282.1 66.6,281.9 66.3,281.5 66.0,278.2 65.7,284.9 65.4,283.8 65.1,283.6 64.8,281.6 64.6,283.7 64.3,283.2 64.0,283.3 63.7,283.6 63.4,283.5 63.1,283.2 62.8,288.5 62.5,287.7 62.2,289.1 61.9,288.9 61.6,289.1 61.3,289.2 61.0,287.7 60.7,287.3 60.4,288.1 60.1,290.0 59.8,289.5 59.5,289.8 59.2,285.4 58.9,285.6 58.7,278.8 58.4,281.0 58.1,284.4 57.8,286.2 57.5,286.0 57.2,283.9 56.9,284.8 56.6,283.9 56.3,284.0 56.0,284.3"/><polyline fill="none" stroke="#9098b8" stroke-width="0.4" points="56.0,263.4 56.3,264.1 56.6,259.4 56.9,255.1 57.2,258.6 57.5,256.8 57.8,257.2 58.1,256.3 58.4,257.5 58.7,257.9 58.9,257.5 59.2,259.3 59.5,258.4 59.8,257.4 60.1,255.8 60.4,256.1 60.7,260.1 61.0,259.7 61.3,259.5 61.6,260.4 61.9,261.5 62.2,262.9 62.5,262.4 62.8,259.8 63.1,260.2 63.4,258.2 63.7,258.0 64.0,257.9 64.3,248.9 64.6,248.8 64.8,248.9 65.1,249.2 65.4,249.7 65.7,252.9 66.0,251.1 66.3,250.9 66.6,249.8 66.9,249.3 67.2,252.2 67.5,251.4 67.8,252.9 68.1,252.4 68.4,252.9 68.7,252.0 69.0,252.4 69.3,250.3 69.6,250.4 69.9,252.3 70.2,250.3 70.4,250.5 70.7,251.7 71.0,253.2 71.3,253.3 71.6,251.3 71.9,250.7 72.2,251.6 72.5,252.4 72.8,252.1 73.1,253.3 73.4,253.9 73.7,254.6 74.0,260.3 74.3,261.1 74.6,260.4 74.9,257.2 75.2,256.9 75.5,255.9 75.8,255.7 76.0,257.0 76.3,258.1 76.6,255.1 76.9,255.4 77.2,256.8 77.5,253.5 77.8,253.1 78.1,253.4 78.4,252.8 78.7,252.9 79.0,253.5 79.3,253.4 79.6,253.1 79.9,253.3 80.2,253.8 80.5,253.7 80.8,256.5 81.1,255.4 81.4,256.6 81.7,253.6 81.9,253.7 82.2,253.7 82.5,254.5 82.8,253.8 83.1,253.9 83.4,254.3 83.7,254.5 84.0,254.4 84.3,254.2 84.6,255.1 84.9,258.4 85.2,257.0 85.5,259.9 85.8,259.3 86.1,260.7 86.4,261.2 86.7,261.3 87.0,260.9 87.3,257.7 87.5,256.1 87.8,254.0 88.1,254.0 88.4,254.7 88.7,253.2 89.0,253.7 89.3,253.6 89.6,253.5 89.9,253.3 90.2,252.9 90.5,252.9 90.8,253.6 91.1,253.1 91.4,255.2 91.7,263.6 92.0,263.3 92.3,257.4 92.6,254.4 92.9,254.2 93.1,255.2 93.4,254.7 93.7,258.7 94.0,258.2 94.3,258.2 94.6,256.6 94.9,255.9 95.2,256.5 95.5,256.9 95.8,257.7 96.1,258.7 96.4,258.7 96.7,259.6 97.0,256.8 97.3,257.9 97.6,258.2 97.9,260.0 98.2,258.1 98.5,258.2 98.8,257.2 99.0,253.5 99.3,248.3 99.6,248.0 99.9,247.8 100.2,247.3 100.5,247.1 100.8,247.1 101.1,246.6 101.4,246.1 101.7,248.2 102.0,248.4 102.3,246.9 102.6,245.1 102.9,245.7 103.2,244.9 103.5,244.4 103.8,243.7 104.1,243.6 104.4,244.3 104.6,244.7 104.9,245.0 105.2,245.6 105.5,246.3 105.8,246.2 106.1,250.6 106.4,249.1 106.7,250.2 107.0,247.5 107.3,246.9 107.6,246.7 107.9,244.3 108.2,241.5 108.5,234.0 108.8,225.6 109.1,223.1 109.4,224.5 109.7,224.9 110.0,226.7 110.2,233.7 110.5,238.1 110.8,239.8 111.1,239.0 111.4,238.8 111.7,238.1 112.0,237.6 112.3,237.6 112.6,238.8 112.9,239.1 113.2,243.0 113.5,245.1 113.8,245.9 114.1,241.2 114.4,238.8 114.7,238.4 115.0,237.5 115.3,238.6 115.6,238.5 115.9,237.8 116.1,239.0 116.4,239.1 116.7,239.2 117.0,239.5 117.3,242.2 117.6,241.2 117.9,241.0 118.2,241.5 118.5,242.0 118.8,242.3 119.1,242.9 119.4,244.3 119.7,244.7 120.0,243.7 120.3,243.4 120.6,243.7 120.9,243.7 121.2,243.2 121.5,242.8 121.7,242.5 122.0,242.5 122.3,243.6 122.6,242.3 122.9,242.0 123.2,243.4 123.5,243.8 123.8,245.8 124.1,244.2 124.4,244.1 124.7,241.2 125.0,240.6 125.3,240.7 125.6,240.9 125.9,240.7 126.2,242.1 126.5,242.8 126.8,241.6 127.1,241.2 127.3,240.0 127.6,240.4 127.9,244.8 128.2,244.6 128.5,245.7 128.8,242.6 129.1,247.6 129.4,243.9 129.7,243.7 130.0,243.4 130.3,240.8 130.6,241.1 130.9,240.5 131.2,240.5 131.5,240.8 131.8,241.8 132.1,243.1 132.4,242.8 132.7,245.6 133.0,246.6 133.2,246.7 133.5,247.3 133.8,242.6 134.1,240.5 134.4,240.7 134.7,239.8 135.0,239.2 135.3,238.9 135.6,238.6 135.9,238.2 136.2,237.8 136.5,237.3 136.8,238.4 137.1,238.5 137.4,236.7 137.7,236.0 138.0,240.5 138.3,241.2 138.6,242.0 138.8,241.6 139.1,242.3 139.4,241.8 139.7,242.4 140.0,243.0 140.3,240.7 140.6,241.2 140.9,241.9 141.2,244.4 141.5,246.2 141.8,244.5 142.1,244.3 142.4,243.3 142.7,243.4 143.0,243.8 143.3,242.8 143.6,244.8 143.9,243.5 144.2,243.0 144.5,242.3 144.7,242.1 145.0,241.9 145.3,243.6 145.6,246.5 145.9,242.1 146.2,242.8 146.5,243.7 146.8,242.0 147.1,241.9 147.4,242.2 147.7,241.9 148.0,243.3 148.3,243.5 148.6,246.1 148.9,246.5 149.2,246.8 149.5,244.2 149.8,242.3 150.1,242.6 150.3,240.8 150.6,241.3 150.9,240.3 151.2,240.0 151.5,240.3 151.8,240.4 152.1,246.2 152.4,248.0 152.7,247.6 153.0,245.8 153.3,246.3 153.6,242.5 153.9,245.7 154.2,245.4 154.5,247.3 154.8,249.0 155.1,243.8 155.4,245.1 155.7,243.7 155.9,244.6 156.2,243.6 156.5,244.3 156.8,246.0 157.1,243.8 157.4,243.2 157.7,243.8 158.0,245.2 158.3,248.6 158.6,245.2 158.9,242.3 159.2,242.1 159.5,241.5 159.8,241.2 160.1,242.2 160.4,241.8 160.7,242.3 161.0,241.6 161.3,243.8 161.6,243.7 161.8,246.3 162.1,247.3 162.4,247.1 162.7,245.8 163.0,246.5 163.3,247.8 163.6,245.1 163.9,246.5 164.2,249.3 164.5,247.5 164.8,246.9 165.1,245.8 165.4,241.9 165.7,243.9 166.0,243.4 166.3,242.8 166.6,242.2 166.9,242.1 167.2,238.6 167.4,240.1 167.7,239.0 168.0,239.5 168.3,238.7 168.6,238.4 168.9,240.9 169.2,240.7 169.5,241.8 169.8,241.8 170.1,244.8 170.4,242.9 170.7,238.0 171.0,238.3 171.3,239.5 171.6,241.4 171.9,242.8 172.2,240.2 172.5,243.1 172.8,241.5 173.0,241.5 173.3,240.0 173.6,239.5 173.9,240.5 174.2,239.0 174.5,238.6 174.8,240.1 175.1,241.2 175.4,237.3 175.7,237.8 176.0,238.1 176.3,239.5 176.6,241.1 176.9,238.2 177.2,237.4 177.5,237.9 177.8,238.4 178.1,236.6 178.4,237.3 178.7,233.6 178.9,232.6 179.2,232.2 179.5,233.4 179.8,234.8 180.1,231.8 180.4,232.1 180.7,231.9 181.0,233.0 181.3,231.5 181.6,232.4 181.9,232.8 182.2,231.7 182.5,231.8 182.8,233.5 183.1,232.7 183.4,232.1 183.7,232.3 184.0,235.1 184.3,238.2 184.5,238.8 184.8,234.8 185.1,233.3 185.4,233.2 185.7,235.4 186.0,233.5 186.3,232.8 186.6,231.7 186.9,233.1 187.2,232.2 187.5,229.1 187.8,231.0 188.1,230.1 188.4,228.3 188.7,228.3 189.0,228.6 189.3,227.8 189.6,231.1 189.9,228.6 190.1,229.3 190.4,227.4 190.7,228.4 191.0,233.1 191.3,232.9 191.6,228.4 191.9,231.6 192.2,230.1 192.5,228.1 192.8,226.8 193.1,226.6 193.4,228.4 193.7,226.0 194.0,226.0 194.3,221.5 194.6,222.4 194.9,220.9 195.2,221.6 195.5,221.2 195.8,219.4 196.0,221.0 196.3,222.1 196.6,219.9 196.9,222.0 197.2,228.1 197.5,224.7 197.8,225.1 198.1,223.0 198.4,224.9 198.7,224.1 199.0,226.0 199.3,225.8 199.6,224.5 199.9,226.6 200.2,225.3 200.5,223.6 200.8,224.2 201.1,222.8 201.4,224.1 201.6,223.6 201.9,223.4 202.2,226.7 202.5,223.9 202.8,226.2 203.1,223.0 203.4,226.9 203.7,225.3 204.0,223.4 204.3,222.6 204.6,224.1 204.9,220.8 205.2,220.1 205.5,221.8 205.8,219.3 206.1,219.2 206.4,220.1 206.7,221.4 207.0,220.4 207.2,220.8 207.5,220.9 207.8,222.1 208.1,223.7 208.4,218.7 208.7,216.0 209.0,216.2 209.3,216.8 209.6,218.5 209.9,217.3 210.2,217.4 210.5,218.9 210.8,217.7 211.1,218.0 211.4,218.5 211.7,220.0 212.0,221.2 212.3,221.1 212.6,223.8 212.9,220.3 213.1,220.2 213.4,221.9 213.7,222.0 214.0,220.9 214.3,221.1 214.6,221.7 214.9,220.8 215.2,221.4 215.5,221.2 215.8,216.9 216.1,215.0 216.4,214.5 216.7,214.3 217.0,213.9 217.3,213.0 217.6,213.1 217.9,212.8 218.2,212.3 218.5,212.2 218.7,214.0 219.0,211.7 219.3,211.6 219.6,210.9 219.9,213.1 220.2,210.1 220.5,209.8 220.8,210.1 221.1,209.2 221.4,209.5 221.7,208.7 222.0,208.1 222.3,208.6 222.6,208.2 222.9,208.0 223.2,209.1 223.5,209.7 223.8,205.9 224.1,206.1 224.3,205.7 224.6,204.9 224.9,205.7 225.2,204.7 225.5,205.2 225.8,206.5 226.1,205.9 226.4,206.6 226.7,206.5 227.0,208.1 227.3,207.5 227.6,208.3 227.9,208.4 228.2,208.6 228.5,208.4 228.8,208.6 229.1,208.5 229.4,209.7 229.7,215.1 230.0,216.0 230.2,216.1 230.5,211.4 230.8,207.9 231.1,211.3 231.4,208.2 231.7,209.9 232.0,208.5 232.3,209.5 232.6,210.1 232.9,210.6 233.2,210.7 233.5,207.9 233.8,211.9 234.1,209.8 234.4,207.4 234.7,205.8 235.0,210.0 235.3,210.2 235.6,207.9 235.8,207.2 236.1,207.8 236.4,201.1 236.7,199.7 237.0,199.7 237.3,200.3 237.6,199.4 237.9,198.4 238.2,200.2 238.5,199.4 238.8,199.6 239.1,201.7 239.4,201.5 239.7,201.6 240.0,204.5 240.3,207.7 240.6,207.1 240.9,202.4 241.2,202.3 241.5,203.8 241.7,203.8 242.0,203.8 242.3,204.5 242.6,202.7 242.9,202.7 243.2,202.9 243.5,204.2 243.8,202.5 244.1,201.2 244.4,200.9 244.7,200.3 245.0,200.2 245.3,199.9 245.6,200.1 245.9,199.6 246.2,199.1 246.5,199.1 246.8,199.1 247.1,202.2 247.3,201.9 247.6,200.6 247.9,203.3 248.2,202.1 248.5,201.6 248.8,202.3 249.1,202.6 249.4,199.7 249.7,200.0 250.0,202.5 250.3,200.4 250.6,201.6 250.9,202.1 251.2,199.6 251.5,202.7 251.8,203.0 252.1,204.6 252.4,203.8 252.7,202.7 252.9,202.0 253.2,202.6 253.5,201.7 253.8,202.5 254.1,202.0 254.4,203.6 254.7,201.9 255.0,205.4 255.3,204.0 255.6,202.2 255.9,200.6 256.2,200.6 256.5,199.8 256.8,199.1 257.1,201.7 257.4,199.1 257.7,197.7 258.0,201.2 258.3,199.1 258.6,199.6 258.8,197.7 259.1,197.5 259.4,195.2 259.7,195.2 260.0,194.3 260.3,194.4 260.6,194.4 260.9,194.8 261.2,195.5 261.5,194.1 261.8,194.2 262.1,195.4 262.4,195.2 262.7,196.3 263.0,195.0 263.3,195.1 263.6,197.3 263.9,195.2 264.2,196.4 264.4,195.9 264.7,196.0 265.0,196.8 265.3,198.0 265.6,195.2 265.9,193.5 266.2,193.0 266.5,194.8 266.8,192.7 267.1,193.2 267.4,194.2 267.7,191.7 268.0,192.9 268.3,191.0 268.6,189.6 268.9,189.0 269.2,188.7 269.5,188.1 269.8,187.4 270.0,186.9 270.3,186.5 270.6,187.8 270.9,187.5 271.2,187.3 271.5,188.3 271.8,185.0 272.1,185.1 272.4,184.3 272.7,189.5 273.0,186.5 273.3,188.6 273.6,190.9 273.9,188.6 274.2,188.9 274.5,189.6 274.8,191.1 275.1,188.6 275.4,190.7 275.7,191.7 275.9,191.4 276.2,194.2 276.5,198.1 276.8,197.2 277.1,195.7 277.4,195.2 277.7,196.3 278.0,195.5 278.3,196.4 278.6,196.0 278.9,197.3 279.2,195.2 279.5,191.9 279.8,190.9 280.1,191.2 280.4,192.2 280.7,191.6 281.0,192.1 281.3,193.6 281.5,192.6 281.8,189.9 282.1,190.2 282.4,192.2 282.7,192.7 283.0,194.9 283.3,194.1 283.6,195.9 283.9,194.5 284.2,191.6 284.5,192.5 284.8,192.1 285.1,190.6 285.4,192.7 285.7,192.2 286.0,192.9 286.3,195.7 286.6,196.4 286.9,194.4 287.1,191.3 287.4,188.6 287.7,191.3 288.0,190.1 288.3,190.2 288.6,189.7 288.9,190.2 289.2,193.3 289.5,190.8 289.8,190.0 290.1,190.7 290.4,192.5 290.7,190.6 291.0,191.1 291.3,191.0 291.6,191.8 291.9,191.6 292.2,191.9 292.5,191.7 292.8,191.2 293.0,191.0 293.3,191.2 293.6,190.6 293.9,191.6 294.2,189.7 294.5,190.2 294.8,189.6 295.1,189.1 295.4,189.5 295.7,189.3 296.0,188.4 296.3,188.2 296.6,189.1 296.9,192.2 297.2,191.5 297.5,190.4 297.8,191.6 298.1,192.2 298.4,188.7 298.6,187.3 298.9,188.0 299.2,189.7 299.5,191.3 299.8,189.8 300.1,189.5 300.4,189.6 300.7,189.7 301.0,190.2 301.3,190.5 301.6,191.5 301.9,191.6 302.2,191.6 302.5,190.2 302.8,190.4 303.1,190.2 303.4,192.5 303.7,195.3 304.0,193.9 304.2,194.0 304.5,191.9 304.8,190.7 305.1,189.2 305.4,190.3 305.7,189.5 306.0,190.0 306.3,190.6 306.6,187.3 306.9,186.0 307.2,187.0 307.5,185.3 307.8,185.5 308.1,184.6 308.4,182.9 308.7,182.5 309.0,184.9 309.3,180.2 309.6,178.6 309.9,177.4 310.1,177.0 310.4,178.1 310.7,178.9 311.0,181.1 311.3,178.3 311.6,178.0 311.9,177.6 312.2,178.0 312.5,177.5 312.8,176.6 313.1,179.0 313.4,178.6 313.7,180.0 314.0,178.2 314.3,179.9 314.6,180.5 314.9,181.5 315.2,179.9 315.5,182.3 315.7,177.9 316.0,177.5 316.3,176.1 316.6,175.2 316.9,175.8 317.2,177.1 317.5,175.1 317.8,177.8 318.1,173.8 318.4,169.3 318.7,171.7 319.0,171.7 319.3,172.3 319.6,171.9 319.9,172.3 320.2,172.5 320.5,170.3 320.8,170.4 321.1,170.9 321.4,174.4 321.6,175.1 321.9,173.9 322.2,175.0 322.5,176.6 322.8,175.4 323.1,175.4 323.4,174.9 323.7,175.4 324.0,174.6 324.3,173.5 324.6,174.1 324.9,175.1 325.2,172.6 325.5,173.1 325.8,173.4 326.1,173.7 326.4,172.8 326.7,173.9 327.0,174.4 327.2,173.1 327.5,173.7 327.8,174.5 328.1,174.9 328.4,173.8 328.7,174.3 329.0,175.5 329.3,174.5 329.6,178.4 329.9,174.3 330.2,174.1 330.5,173.5 330.8,172.1 331.1,172.3 331.4,171.0 331.7,170.5 332.0,170.8 332.3,168.8 332.6,168.0 332.8,167.6 333.1,168.0 333.4,167.3 333.7,168.1 334.0,168.9 334.3,169.3 334.6,170.1 334.9,171.5 335.2,171.8 335.5,172.9 335.8,173.4 336.1,174.7 336.4,176.0 336.7,176.0 337.0,176.0 337.3,176.6 337.6,176.7 337.9,176.3 338.2,175.8 338.5,173.2 338.7,173.2 339.0,170.6 339.3,170.0 339.6,168.2 339.9,167.1 340.2,166.8 340.5,166.0 340.8,165.5 341.1,164.2 341.4,164.0 341.7,164.9 342.0,164.3 342.3,163.8 342.6,163.3 342.9,162.3 343.2,161.0 343.5,159.9 343.8,159.9 344.1,160.1 344.3,161.0 344.6,161.5 344.9,162.8 345.2,163.9 345.5,165.5 345.8,165.9 346.1,166.6 346.4,168.2 346.7,171.8 347.0,167.2 347.3,165.8 347.6,164.2 347.9,163.1 348.2,161.3 348.5,159.6 348.8,158.1 349.1,157.0 349.4,158.7 349.7,156.3 349.9,156.3 350.2,155.6 350.5,154.0 350.8,156.8 351.1,158.5 351.4,160.0 351.7,159.4 352.0,161.4 352.3,160.8 352.6,161.9 352.9,158.4 353.2,161.4 353.5,160.8 353.8,160.7 354.1,160.0 354.4,159.8 354.7,164.0 355.0,166.9 355.3,163.9 355.6,163.0 355.8,164.2 356.1,164.2 356.4,162.9 356.7,163.0 357.0,163.1 357.3,164.2 357.6,165.8 357.9,165.4 358.2,164.8 358.5,164.4 358.8,163.7 359.1,164.5 359.4,163.3 359.7,165.9 360.0,164.6 360.3,165.8 360.6,168.4 360.9,170.6 361.2,168.3 361.4,167.5 361.7,166.6 362.0,166.1 362.3,168.8 362.6,169.5 362.9,168.0 363.2,167.7 363.5,166.3 363.8,166.4 364.1,166.0 364.4,164.9 364.7,165.3 365.0,163.7 365.3,165.8 365.6,166.0 365.9,165.4 366.2,162.8 366.5,164.2 366.8,165.0 367.0,163.7 367.3,162.2 367.6,164.8 367.9,164.7 368.2,163.5 368.5,164.8 368.8,164.8 369.1,163.5 369.4,163.0 369.7,163.6 370.0,164.7 370.3,163.2 370.6,162.3 370.9,159.3 371.2,158.3 371.5,157.6 371.8,157.6 372.1,158.0 372.4,157.8 372.7,158.4 372.9,158.2 373.2,158.0 373.5,157.8 373.8,156.6 374.1,155.8 374.4,157.7 374.7,154.6 375.0,154.5 375.3,155.0 375.6,154.1 375.9,153.7 376.2,156.1 376.5,155.0 376.8,153.7 377.1,154.4 377.4,154.1 377.7,154.8 378.0,155.7 378.3,157.8 378.5,155.1 378.8,153.5 379.1,152.3 379.4,152.7 379.7,152.9 380.0,153.9 380.3,154.0 380.6,149.7 380.9,149.4 381.2,151.1 381.5,148.8 381.8,150.3 382.1,151.1 382.4,151.2 382.7,150.5 383.0,151.8 383.3,151.0 383.6,151.1 383.9,150.7 384.1,152.3 384.4,152.3 384.7,153.4"/><polyline fill="none" stroke="#0a30ff" stroke-width="1.6" stroke-linejoin="round" points="56.0,274.7 56.3,272.1 56.6,278.0 56.9,277.5 57.2,276.8 57.5,273.6 57.8,266.7 58.1,264.2 58.4,265.6 58.7,270.5 58.9,271.5 59.2,263.6 59.5,266.9 59.8,270.8 60.1,275.6 60.4,275.1 60.7,279.5 61.0,278.9 61.3,277.1 61.6,275.5 61.9,267.1 62.2,268.7 62.5,269.7 62.8,266.2 63.1,268.6 63.4,270.8 63.7,269.1 64.0,268.9 64.3,268.6 64.6,267.7 64.8,263.8 65.1,263.6 65.4,255.2 65.7,254.9 66.0,253.7 66.3,255.1 66.6,260.8 66.9,262.4 67.2,262.6 67.5,262.5 67.8,264.4 68.1,259.0 68.4,261.2 68.7,256.9 69.0,256.3 69.3,257.8 69.6,256.7 69.9,260.8 70.2,265.9 70.4,266.3 70.7,268.9 71.0,267.8 71.3,260.2 71.6,259.6 71.9,259.1 72.2,265.0 72.5,263.1 72.8,270.8 73.1,270.6 73.4,279.9 73.7,283.5 74.0,284.7 74.3,286.0 74.6,286.6 74.9,287.2 75.2,287.1 75.5,280.5 75.8,271.3 76.0,262.5 76.3,263.1 76.6,270.1 76.9,273.6 77.2,275.9 77.5,274.5 77.8,269.2 78.1,268.7 78.4,267.8 78.7,259.8 79.0,263.5 79.3,259.0 79.6,261.7 79.9,261.7 80.2,265.0 80.5,266.6 80.8,265.1 81.1,268.2 81.4,266.8 81.7,277.5 81.9,272.0 82.2,265.4 82.5,264.2 82.8,260.7 83.1,260.0 83.4,260.1 83.7,266.7 84.0,264.5 84.3,269.3 84.6,267.7 84.9,269.9 85.2,272.3 85.5,272.5 85.8,271.5 86.1,267.0 86.4,269.2 86.7,266.8 87.0,268.0 87.3,272.5 87.5,272.6 87.8,268.6 88.1,274.6 88.4,271.2 88.7,266.2 89.0,262.0 89.3,265.4 89.6,265.0 89.9,259.1 90.2,263.7 90.5,272.6 90.8,278.5 91.1,276.7 91.4,276.4 91.7,277.8 92.0,279.4 92.3,276.8 92.6,269.4 92.9,269.9 93.1,269.2 93.4,264.1 93.7,263.2 94.0,263.6 94.3,263.6 94.6,267.3 94.9,269.9 95.2,271.6 95.5,269.8 95.8,263.6 96.1,262.8 96.4,263.9 96.7,266.8 97.0,264.3 97.3,262.7 97.6,265.9 97.9,268.3 98.2,268.1 98.5,270.0 98.8,267.9 99.0,269.5 99.3,266.2 99.6,265.4 99.9,263.2 100.2,258.4 100.5,251.7 100.8,251.4 101.1,252.4 101.4,256.3 101.7,258.8 102.0,263.4 102.3,264.5 102.6,265.9 102.9,259.9 103.2,257.4 103.5,254.3 103.8,251.0 104.1,248.5 104.4,251.3 104.6,250.7 104.9,261.0 105.2,261.4 105.5,262.3 105.8,262.1 106.1,267.7 106.4,262.2 106.7,259.8 107.0,256.0 107.3,254.6 107.6,253.9 107.9,256.0 108.2,248.9 108.5,245.2 108.8,243.5 109.1,235.2 109.4,232.4 109.7,234.9 110.0,235.6 110.2,244.7 110.5,252.8 110.8,251.6 111.1,245.5 111.4,246.8 111.7,247.9 112.0,252.1 112.3,257.4 112.6,258.0 112.9,259.8 113.2,255.3 113.5,260.1 113.8,259.2 114.1,261.6 114.4,260.8 114.7,255.7 115.0,253.9 115.3,250.4 115.6,246.5 115.9,250.9 116.1,255.3 116.4,254.8 116.7,258.4 117.0,257.9 117.3,258.0 117.6,253.1 117.9,247.9 118.2,250.9 118.5,253.6 118.8,253.7 119.1,254.5 119.4,257.9 119.7,260.0 120.0,259.0 120.3,253.0 120.6,256.1 120.9,250.8 121.2,249.5 121.5,250.3 121.7,250.2 122.0,246.6 122.3,250.4 122.6,252.3 122.9,254.1 123.2,257.2 123.5,256.1 123.8,250.2 124.1,253.2 124.4,256.1 124.7,257.3 125.0,254.6 125.3,251.7 125.6,250.9 125.9,245.6 126.2,246.2 126.5,248.2 126.8,255.0 127.1,253.6 127.3,259.4 127.6,259.0 127.9,253.4 128.2,257.7 128.5,250.7 128.8,251.4 129.1,255.1 129.4,253.6 129.7,252.0 130.0,257.4 130.3,257.7 130.6,254.2 130.9,249.9 131.2,248.0 131.5,250.9 131.8,248.7 132.1,250.3 132.4,255.0 132.7,257.4 133.0,260.8 133.2,260.5 133.5,257.0 133.8,259.7 134.1,259.1 134.4,256.7 134.7,251.6 135.0,247.2 135.3,243.4 135.6,244.1 135.9,242.7 136.2,242.5 136.5,242.4 136.8,246.4 137.1,248.2 137.4,250.2 137.7,255.4 138.0,254.0 138.3,254.1 138.6,249.4 138.8,248.9 139.1,247.9 139.4,248.3 139.7,247.0 140.0,246.5 140.3,248.9 140.6,250.2 140.9,255.1 141.2,257.5 141.5,254.3 141.8,255.6 142.1,253.3 142.4,254.2 142.7,250.8 143.0,247.2 143.3,250.4 143.6,251.4 143.9,249.0 144.2,246.8 144.5,248.3 144.7,249.4 145.0,251.6 145.3,254.7 145.6,257.6 145.9,254.8 146.2,256.2 146.5,257.5 146.8,253.9 147.1,248.2 147.4,251.6 147.7,255.8 148.0,261.3 148.3,261.0 148.6,260.7 148.9,260.4 149.2,257.0 149.5,254.2 149.8,250.7 150.1,253.1 150.3,253.5 150.6,245.3 150.9,251.9 151.2,253.5 151.5,257.1 151.8,256.0 152.1,257.2 152.4,258.7 152.7,257.2 153.0,253.1 153.3,254.7 153.6,255.1 153.9,255.9 154.2,258.8 154.5,258.0 154.8,264.0 155.1,263.8 155.4,262.9 155.7,261.8 155.9,255.9 156.2,251.5 156.5,251.9 156.8,252.8 157.1,256.0 157.4,256.3 157.7,252.4 158.0,255.2 158.3,259.1 158.6,262.3 158.9,263.4 159.2,259.1 159.5,260.8 159.8,258.5 160.1,258.3 160.4,251.4 160.7,251.8 161.0,250.5 161.3,255.9 161.6,260.0 161.8,260.6 162.1,257.5 162.4,255.2 162.7,252.9 163.0,254.0 163.3,252.9 163.6,252.3 163.9,250.6 164.2,250.6 164.5,251.1 164.8,254.9 165.1,254.4 165.4,255.7 165.7,251.7 166.0,250.2 166.3,249.5 166.6,247.4 166.9,248.9 167.2,249.6 167.4,247.6 167.7,246.4 168.0,246.6 168.3,248.3 168.6,248.1 168.9,251.4 169.2,253.6 169.5,254.8 169.8,256.0 170.1,254.6 170.4,253.0 170.7,253.4 171.0,251.7 171.3,250.4 171.6,248.4 171.9,246.3 172.2,245.5 172.5,245.4 172.8,248.6 173.0,248.2 173.3,247.3 173.6,249.5 173.9,247.8 174.2,248.1 174.5,246.5 174.8,247.0"/><polyline fill="none" stroke="#0a30ff" stroke-width="1.15" stroke-linejoin="round" points="174.2,248.1 174.5,246.5 174.8,247.0 175.1,244.0 175.4,244.4 175.7,252.2 176.0,253.6 176.3,253.7 176.6,253.6 176.9,253.6 177.2,247.4 177.5,242.9 177.8,243.1 178.1,244.4 178.4,242.5 178.7,242.7 178.9,243.2 179.2,243.2 179.5,242.3 179.8,240.3 180.1,243.4 180.4,240.9 180.7,240.9 181.0,241.0 181.3,239.2 181.6,241.4 181.9,239.1 182.2,238.4 182.5,237.1 182.8,238.8 183.1,242.6 183.4,245.5 183.7,245.9 184.0,247.6 184.3,248.0 184.5,246.6 184.8,249.0 185.1,245.1 185.4,244.8 185.7,243.8 186.0,241.9 186.3,238.7 186.6,241.7 186.9,244.1 187.2,246.3 187.5,246.8 187.8,246.1 188.1,242.9 188.4,241.9 188.7,236.1 189.0,236.0 189.3,234.2 189.6,234.9 189.9,239.6 190.1,240.6 190.4,241.2 190.7,242.9 191.0,242.5 191.3,241.4 191.6,237.9 191.9,239.7 192.2,239.2 192.5,238.8 192.8,234.7 193.1,236.4 193.4,235.3 193.7,237.8 194.0,236.9 194.3,242.9 194.6,237.8 194.9,239.9 195.2,238.5 195.5,231.5 195.8,230.3 196.0,234.2 196.3,236.4 196.6,232.1 196.9,233.5 197.2,231.8 197.5,232.8 197.8,233.4 198.1,239.5 198.4,239.6 198.7,238.3 199.0,235.7 199.3,236.7 199.6,235.4 199.9,231.6 200.2,235.0 200.5,231.8 200.8,232.4 201.1,236.5 201.4,241.9 201.6,239.9 201.9,239.7 202.2,240.4 202.5,237.9 202.8,237.6 203.1,236.8 203.4,234.9 203.7,234.6 204.0,235.5 204.3,235.1 204.6,239.9 204.9,233.7 205.2,232.5 205.5,236.1 205.8,234.9 206.1,229.6 206.4,229.1 206.7,230.5 207.0,228.0 207.2,230.4 207.5,231.5 207.8,231.2 208.1,233.2 208.4,236.3 208.7,232.5 209.0,231.4 209.3,231.9 209.6,225.5 209.9,221.3 210.2,223.0 210.5,223.7 210.8,224.3 211.1,226.2 211.4,225.0 211.7,235.3 212.0,232.5 212.3,231.2 212.6,227.0 212.9,226.2 213.1,229.6 213.4,228.0 213.7,226.8 214.0,224.0 214.3,228.5 214.6,229.4 214.9,225.7 215.2,228.8 215.5,228.8 215.8,230.4 216.1,230.4 216.4,229.2 216.7,226.1 217.0,220.7 217.3,216.6 217.6,220.0 217.9,221.4 218.2,223.5 218.5,224.1 218.7,220.8 219.0,219.1 219.3,224.6 219.6,221.8 219.9,219.3 220.2,214.1 220.5,213.9 220.8,213.7 221.1,214.0 221.4,215.2 221.7,215.8 222.0,216.3 222.3,218.1 222.6,220.8 222.9,221.8 223.2,227.9 223.5,227.3 223.8,225.6 224.1,219.3 224.3,220.1 224.6,215.1 224.9,211.5 225.2,211.1 225.5,216.1 225.8,214.9 226.1,222.4 226.4,222.8 226.7,218.6 227.0,217.3 227.3,223.2 227.6,217.3 227.9,211.7 228.2,214.4 228.5,219.4 228.8,221.3 229.1,221.1 229.4,221.2 229.7,223.5 230.0,225.9 230.2,227.4 230.5,227.3 230.8,226.7 231.1,222.1 231.4,219.8 231.7,215.2 232.0,213.1 232.3,215.9 232.6,216.7 232.9,219.9 233.2,219.4 233.5,219.6 233.8,219.1 234.1,215.3 234.4,212.3 234.7,214.6 235.0,221.8 235.3,216.1 235.6,216.8 235.8,218.1 236.1,216.0 236.4,217.4 236.7,213.6 237.0,211.4 237.3,212.8 237.6,206.2 237.9,208.1 238.2,208.4 238.5,205.8 238.8,208.7 239.1,210.4 239.4,210.8 239.7,215.1 240.0,214.1 240.3,217.0 240.6,216.7 240.9,213.6 241.2,211.8 241.5,211.2 241.7,212.2 242.0,206.9 242.3,206.5 242.6,206.8 242.9,212.5 243.2,211.0 243.5,215.3 243.8,211.8 244.1,213.7 244.4,213.2 244.7,213.1 245.0,209.0 245.3,203.2 245.6,202.9 245.9,204.8 246.2,208.1 246.5,205.8 246.8,209.0 247.1,207.7 247.3,208.3 247.6,207.6 247.9,211.3 248.2,214.1 248.5,208.6 248.8,209.7 249.1,212.2 249.4,214.7 249.7,205.3 250.0,206.3 250.3,210.8 250.6,206.9 250.9,212.1 251.2,214.0 251.5,215.9 251.8,213.3 252.1,212.1 252.4,209.3 252.7,209.1 252.9,209.0 253.2,208.1 253.5,205.9 253.8,213.4 254.1,217.3 254.4,220.5 254.7,217.6 255.0,217.0 255.3,220.0 255.6,217.8 255.9,212.6 256.2,208.5 256.5,207.0 256.8,205.4 257.1,203.9 257.4,209.3 257.7,210.4 258.0,209.0 258.3,204.8 258.6,203.3 258.8,202.6 259.1,202.1 259.4,199.8 259.7,201.6 260.0,201.5 260.3,200.4 260.6,196.9 260.9,198.1 261.2,197.8 261.5,199.9 261.8,200.7 262.1,202.8 262.4,201.7 262.7,198.2 263.0,203.0 263.3,202.6 263.6,202.2 263.9,201.6 264.2,199.7 264.4,202.7 264.7,204.1 265.0,206.9 265.3,207.6 265.6,207.4 265.9,207.0 266.2,204.0 266.5,201.1 266.8,198.9 267.1,196.1 267.4,197.4 267.7,198.9 268.0,201.3 268.3,201.2 268.6,197.6 268.9,198.1 269.2,200.0 269.5,193.9 269.8,190.8 270.0,191.1 270.3,189.6 270.6,190.1 270.9,192.9 271.2,191.3 271.5,194.5 271.8,197.6 272.1,193.5 272.4,194.6 272.7,196.9 273.0,194.9 273.3,194.8 273.6,195.4 273.9,194.1 274.2,196.0 274.5,196.5 274.8,194.4 275.1,197.3 275.4,200.6 275.7,204.1 275.9,202.4 276.2,203.2 276.5,205.6 276.8,203.6 277.1,202.6 277.4,202.4 277.7,199.7 278.0,200.0 278.3,198.9 278.6,202.0 278.9,200.7 279.2,201.1 279.5,201.1 279.8,200.8 280.1,200.0 280.4,199.2 280.7,195.1 281.0,193.6 281.3,194.8 281.5,196.0 281.8,197.5 282.1,203.2 282.4,204.8 282.7,204.6 283.0,204.8 283.3,204.8 283.6,204.6 283.9,198.5 284.2,197.7 284.5,197.0 284.8,200.5 285.1,195.2 285.4,197.8 285.7,196.6 286.0,198.8 286.3,198.4 286.6,198.5 286.9,202.7 287.1,201.8 287.4,202.7 287.7,199.1 288.0,195.1 288.3,194.2 288.6,193.2 288.9,193.4 289.2,197.8 289.5,196.5 289.8,194.9 290.1,197.6 290.4,202.4 290.7,204.0 291.0,204.3 291.3,204.4 291.6,200.2 291.9,199.4 292.2,195.4 292.5,196.5 292.8,200.6 293.0,198.1 293.3,196.6 293.6,196.4 293.9,199.4 294.2,203.5 294.5,208.5 294.8,208.8 295.1,201.5 295.4,195.0 295.7,196.8 296.0,201.7 296.3,198.4 296.6,200.2 296.9,200.1 297.2,200.2 297.5,200.6 297.8,200.5 298.1,200.3 298.4,197.4 298.6,196.3 298.9,198.9 299.2,195.2 299.5,192.7 299.8,194.4 300.1,198.9 300.4,198.8 300.7,199.4 301.0,198.5 301.3,198.2 301.6,194.7 301.9,194.4 302.2,194.2 302.5,195.9 302.8,199.1 303.1,200.6 303.4,200.0 303.7,200.9 304.0,195.9 304.2,196.0 304.5,198.4 304.8,196.6 305.1,195.5 305.4,194.3 305.7,194.5 306.0,193.6 306.3,194.6 306.6,193.1 306.9,192.7 307.2,192.6 307.5,192.5 307.8,189.9 308.1,193.6 308.4,192.0 308.7,187.9 309.0,188.4 309.3,186.2 309.6,185.5 309.9,187.3 310.1,185.9 310.4,180.9 310.7,183.0 311.0,185.0 311.3,187.2 311.6,183.8 311.9,182.6 312.2,182.7 312.5,181.5 312.8,181.2 313.1,182.9 313.4,182.4 313.7,188.1 314.0,187.5 314.3,188.7 314.6,188.4 314.9,186.4 315.2,188.1 315.5,189.1 315.7,190.5 316.0,188.3 316.3,185.0 316.6,184.8 316.9,180.0 317.2,180.9 317.5,183.1 317.8,184.5 318.1,181.6 318.4,178.5 318.7,183.0 319.0,180.9 319.3,176.5 319.6,172.9 319.9,173.3 320.2,176.5 320.5,178.5 320.8,182.5 321.1,182.9 321.4,183.0 321.6,182.4 321.9,179.9 322.2,179.4 322.5,177.6 322.8,176.5 323.1,177.2 323.4,175.9 323.7,176.9 324.0,177.0 324.3,177.7 324.6,178.9 324.9,181.2 325.2,181.5 325.5,181.5 325.8,182.9 326.1,178.1 326.4,176.4 326.7,175.3 327.0,175.5 327.2,176.4 327.5,177.5 327.8,178.5 328.1,177.8 328.4,180.8 328.7,181.6 329.0,182.1 329.3,181.3 329.6,182.6 329.9,181.9 330.2,179.7 330.5,178.2 330.8,177.5 331.1,175.3 331.4,177.2 331.7,175.0 332.0,174.4 332.3,176.2 332.6,176.8 332.8,176.3 333.1,174.3 333.4,173.7 333.7,172.4 334.0,171.0 334.3,174.0 334.6,174.1 334.9,176.9 335.2,180.3 335.5,182.2 335.8,186.2 336.1,184.7 336.4,182.5 336.7,182.2 337.0,183.7 337.3,181.5 337.6,178.5 337.9,180.7 338.2,179.8 338.5,180.1 338.7,181.5 339.0,179.7 339.3,178.0 339.6,177.4 339.9,176.4 340.2,175.4 340.5,172.5 340.8,171.6 341.1,169.3 341.4,166.9 341.7,170.6 342.0,172.4 342.3,175.9 342.6,173.8 342.9,174.1 343.2,173.3 343.5,169.2 343.8,170.2 344.1,167.4 344.3,166.7 344.6,164.4 344.9,168.3 345.2,170.3 345.5,171.6 345.8,171.5 346.1,172.7 346.4,175.1 346.7,174.7 347.0,174.6 347.3,174.2 347.6,171.5 347.9,172.2 348.2,166.3 348.5,165.4 348.8,163.6 349.1,159.1 349.4,160.0 349.7,162.0 349.9,164.5 350.2,162.3 350.5,162.8 350.8,165.1 351.1,164.2 351.4,165.7 351.7,164.9 352.0,164.9 352.3,167.1 352.6,165.4 352.9,164.1 353.2,164.7 353.5,168.4 353.8,170.6 354.1,171.0 354.4,171.3 354.7,171.3 355.0,168.5 355.3,168.1 355.6,166.3 355.8,167.3 356.1,166.7 356.4,167.9 356.7,169.8 357.0,171.1 357.3,171.4 357.6,168.6 357.9,170.1 358.2,168.6 358.5,168.7 358.8,168.9 359.1,166.1 359.4,171.2 359.7,172.6 360.0,174.5 360.3,172.1 360.6,173.8 360.9,174.5 361.2,173.7 361.4,173.4 361.7,174.1 362.0,171.8 362.3,169.8 362.6,171.8 362.9,172.1 363.2,172.2 363.5,176.8 363.8,176.8 364.1,176.8 364.4,176.8 364.7,175.0 365.0,174.4 365.3,172.7 365.6,169.8 365.9,169.4 366.2,169.0 366.5,169.5 366.8,171.5 367.0,173.5 367.3,174.3 367.6,175.1 367.9,173.9 368.2,172.4 368.5,173.9 368.8,166.5 369.1,167.3 369.4,172.0 369.7,165.6 370.0,168.2 370.3,165.1 370.6,167.7 370.9,171.7 371.2,171.4 371.5,168.8 371.8,165.1 372.1,161.2 372.4,162.7 372.7,161.5 372.9,161.4 373.2,162.9 373.5,164.0 373.8,165.3 374.1,166.5 374.4,163.9 374.7,166.9 375.0,159.6 375.3,161.7 375.6,159.7 375.9,158.6 376.2,157.5 376.5,157.2 376.8,157.6 377.1,157.9 377.4,157.2 377.7,160.0 378.0,160.7 378.3,163.2 378.5,161.7 378.8,159.6 379.1,159.8 379.4,160.0 379.7,156.6 380.0,155.4 380.3,157.7 380.6,156.0 380.9,155.7 381.2,156.9 381.5,155.7 381.8,152.7 382.1,152.1 382.4,154.7 382.7,156.4 383.0,156.2 383.3,155.6 383.6,152.9 383.9,153.7 384.1,155.1 384.4,154.2 384.7,156.6"/><polyline fill="none" stroke="#ff0000" stroke-width="1.85" stroke-linejoin="round" points="385.2,152.2 385.8,152.7 386.3,150.2 386.9,152.4 387.4,151.6 388.0,147.2 388.5,149.3 389.1,152.5 389.6,146.3 390.2,151.5 390.7,146.3 391.3,147.3 391.8,144.8 392.4,146.5 392.9,144.2 393.5,146.1 394.0,146.8 394.6,144.7 395.1,143.7 395.7,142.7 396.2,142.9 396.8,140.8 397.3,141.1 397.9,146.0 398.4,141.2 399.0,140.2 399.5,143.4 400.1,143.8 400.6,138.8 401.2,140.1 401.7,135.9 402.3,135.0 402.8,139.9 403.4,139.3 403.9,132.7 404.5,133.6 405.0,138.4 405.6,136.2 406.1,135.5 406.7,137.0 407.2,132.7 407.8,134.7 408.3,134.4 408.9,131.3 409.4,132.8 410.0,129.8 410.5,131.1 411.1,128.9 411.6,124.3 412.2,127.9 412.7,122.5 413.3,123.7 413.8,120.9 414.4,124.3 414.9,120.6 415.5,120.4 416.0,121.2 416.6,119.7 417.1,118.5 417.7,116.2 418.2,119.7 418.8,116.6 419.3,116.8 419.9,118.0 420.4,115.0 421.0,116.5 421.5,117.4 422.1,116.2 422.6,114.0 423.2,118.4 423.7,116.1 424.3,117.8 424.8,112.9 425.4,114.4 425.9,115.2 426.5,113.2 427.0,112.7 427.6,111.7 428.1,110.8 428.7,109.6 429.2,109.2 429.8,110.4 430.3,108.0 430.9,106.1 431.4,108.5 432.0,110.0 432.5,108.8 433.1,103.8 433.6,106.4 434.2,108.0 434.7,105.8 435.3,106.0 435.8,104.9 436.4,105.1 436.9,101.9 437.5,107.5 438.0,99.7 438.6,103.8 439.1,106.1 439.7,103.4 440.2,100.8 440.8,100.8 441.3,98.9 441.9,98.9 442.4,98.5 443.0,100.5 443.5,96.0 444.1,97.9 444.6,96.2 445.2,96.7 445.7,96.1 446.3,98.3 446.8,97.4 447.4,98.2 447.9,97.8 448.5,96.5 449.0,100.4 449.6,99.0 450.1,97.8 450.7,96.7 451.2,95.3 451.8,92.0 452.3,92.9 452.9,90.8 453.4,90.2 454.0,89.0 454.5,83.5 455.1,87.6 455.6,82.7 456.2,86.9 456.7,85.9 457.3,86.0 457.8,85.4 458.4,86.6 458.9,82.6 459.5,81.4 460.0,83.8 460.6,76.7 461.1,82.9 461.7,78.5 462.2,79.6 462.8,77.1 463.3,74.7 463.9,69.0 464.4,70.0 465.0,69.9 465.5,67.2 466.1,68.1 466.6,65.2 467.2,65.0 467.7,65.8 468.3,65.3 468.8,63.7 469.4,62.2 469.9,61.1 470.5,64.3 471.0,59.5 471.6,60.7 472.1,59.8 472.7,61.4 473.2,57.8 473.8,59.9 474.3,57.9 474.9,55.2 475.4,57.3 476.0,53.1 476.5,55.1 477.1,54.9 477.6,52.1 478.2,50.6 478.7,50.8 479.3,50.4 479.8,50.8 480.4,47.2 480.9,47.9 481.5,50.0 482.0,48.0 482.6,48.1 483.1,47.6 483.7,46.6 484.2,45.8 484.8,45.8 485.3,45.5 485.9,44.1 486.4,43.1 487.0,41.0 487.5,42.4 488.1,39.5 488.6,40.4 489.2,40.8 489.7,40.1 490.3,41.2 490.8,39.2 491.4,37.6 491.9,35.2 492.5,34.3 493.0,31.4 493.6,32.9 494.1,28.9 494.7,27.4"/><polyline fill="none" stroke="#000" stroke-width="1.9" stroke-linejoin="round" points="56.1,271.9 162.2,250.8 385.2,158.0 494.9,37.2"/><path d="M56 23H498M56 23V299.5" stroke="#000" stroke-width="1.05" fill="none"/><path d="M498.3 22.5V299.5" stroke="#000" stroke-width="1.15" fill="none"/><path d="M55.5 299.5H498.5" stroke="#000" stroke-width="1.1" fill="none"/><path d="M91.48 299.5V294.70M91.48 23V27.80M126.86 299.5V293.00M126.86 23V29.50M162.24 299.5V294.70M162.24 23V27.80M197.62 299.5V293.00M197.62 23V29.50M233.00 299.5V294.70M233.00 23V27.80M268.38 299.5V293.00M268.38 23V29.50M303.76 299.5V294.70M303.76 23V27.80M339.14 299.5V293.00M339.14 23V29.50M374.52 299.5V294.70M374.52 23V27.80M409.90 299.5V293.00M409.90 23V29.50M445.28 299.5V294.70M445.28 23V27.80M480.66 299.5V293.00M480.66 23V29.50M56 272.10H62.50M498 272.10H491.50M56 245.03H60.80M498 245.03H493.20M56 217.95H62.50M498 217.95H491.50M56 190.88H60.80M498 190.88H493.20M56 163.80H62.50M498 163.80H491.50M56 136.73H60.80M498 136.73H493.20M56 109.65H62.50M498 109.65H491.50M56 82.58H60.80M498 82.58H493.20M56 55.50H62.50M498 55.50H491.50M56 28.43H60.80M498 28.43H493.20" stroke="#000" stroke-width="1.3" fill="none"/><text x="56.8" y="315.5" font-size="16" text-anchor="middle">1900</text><text x="127.6" y="315.5" font-size="16" text-anchor="middle">1920</text><text x="198.3" y="315.5" font-size="16" text-anchor="middle">1940</text><text x="269.1" y="315.5" font-size="16" text-anchor="middle">1960</text><text x="339.8" y="315.5" font-size="16" text-anchor="middle">1980</text><text x="410.6" y="315.5" font-size="16" text-anchor="middle">2000</text><text x="481.4" y="315.5" font-size="16" text-anchor="middle">2020</text><text x="52" y="277.6" font-size="16" text-anchor="end">0</text><text x="52" y="223.5" font-size="16" text-anchor="end">50</text><text x="52" y="169.3" font-size="16" text-anchor="end">100</text><text x="52" y="115.2" font-size="16" text-anchor="end">150</text><text x="52" y="61.0" font-size="16" text-anchor="end">200</text><text x="277.4" y="12.9" font-size="18.95" text-anchor="middle">Global Mean Sea Level Change</text><text transform="translate(11.8,161) rotate(-90)" font-size="16.6" text-anchor="middle">Sea Level Anomaly (mm)</text><path d="M75 68.5H282M75 103.5H273M272.5 88V103.5" stroke="#888" stroke-width="1" fill="none"/><path d="M78 76H116" stroke="#1a3cff" stroke-width="1.7" fill="none"/><path d="M78 95.6H116" stroke="#ff1010" stroke-width="1.7" fill="none"/><text x="120.6" y="81" font-size="15">Adjusted Tide Gauge Data</text><text x="120.6" y="100.5" font-size="15">Satellite Radar Altimetry</text><text x="73.8" y="189" font-size="15">0.6 mm/yr</text><text x="73.8" y="204.2" font-size="15">(1900−1930)</text><text x="278" y="225" font-size="15">1.4 mm/yr</text><text x="277.5" y="241" font-size="15">(1930−1992)</text><text x="488.5" y="140" font-size="15" text-anchor="end">3.61 mm/yr</text><text x="488.5" y="156" font-size="15" text-anchor="end">(1993−2024)</text><defs><radialGradient id="bl"><stop offset="0" stop-color="#000" stop-opacity="0.13"/><stop offset="0.5" stop-color="#000" stop-opacity="0.07"/><stop offset="1" stop-color="#000" stop-opacity="0"/></radialGradient></defs><circle cx="312.6" cy="344.5" r="9" fill="url(#bl)"/></svg></body></html>
